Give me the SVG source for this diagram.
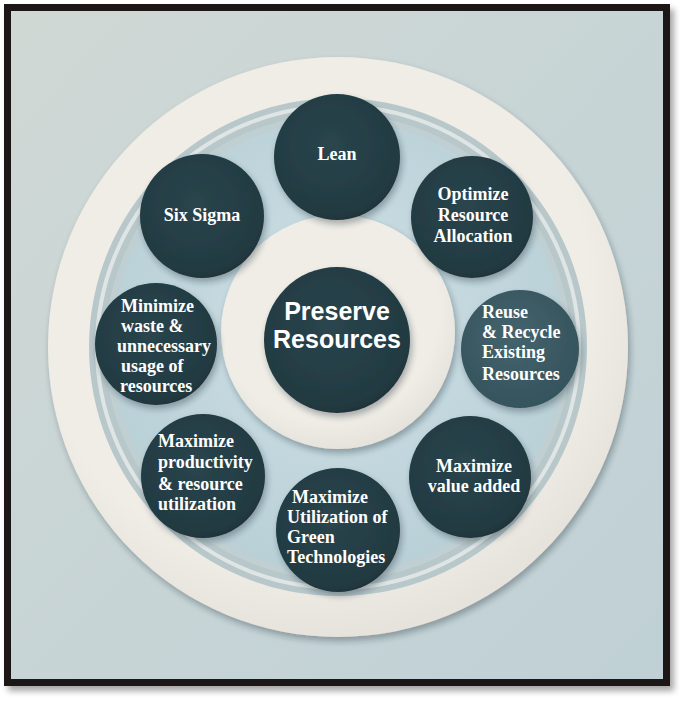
<svg xmlns="http://www.w3.org/2000/svg" width="685" height="701" viewBox="0 0 685 701">
<defs>
<linearGradient id="bg" x1="0" y1="0" x2="1" y2="1">
<stop offset="0" stop-color="#d0d8d4"/>
<stop offset="0.6" stop-color="#c6d4d6"/>
<stop offset="1" stop-color="#bfd0d6"/>
</linearGradient>
<radialGradient id="ring" cx="0.45" cy="0.4" r="0.6">
<stop offset="0.8" stop-color="#f0ede6"/>
<stop offset="1" stop-color="#e6e3dc"/>
</radialGradient>
<radialGradient id="inner" cx="0.5" cy="0.45" r="0.55">
<stop offset="0" stop-color="#cfe1e6"/>
<stop offset="1" stop-color="#b9d0d7"/>
</radialGradient>
<radialGradient id="disc" cx="0.45" cy="0.4" r="0.65">
<stop offset="0" stop-color="#2a454d"/>
<stop offset="0.85" stop-color="#223a41"/>
<stop offset="1" stop-color="#1c3037"/>
</radialGradient>
<radialGradient id="disc2" cx="0.45" cy="0.4" r="0.65">
<stop offset="0" stop-color="#44636d"/>
<stop offset="1" stop-color="#34525c"/>
</radialGradient>
<filter id="sh" x="-20%" y="-20%" width="150%" height="150%">
<feDropShadow dx="2" dy="4" stdDeviation="3" flood-color="#1c2c30" flood-opacity="0.35"/>
</filter>
<filter id="fsh" x="-5%" y="-5%" width="110%" height="110%">
<feDropShadow dx="4" dy="5" stdDeviation="3" flood-color="#000" flood-opacity="0.35"/>
</filter>
<style>
.node{fill:url(#disc);filter:url(#sh)}
.t{font-family:"Liberation Serif","Times New Roman",serif;font-weight:bold;font-size:18px;fill:#ffffff}
.m{text-anchor:middle}
.c{font-family:"Liberation Sans",Arial,sans-serif;font-weight:bold;font-size:25px;fill:#ffffff;text-anchor:middle}
</style>
</defs>
<rect x="0" y="0" width="685" height="701" fill="#ffffff"/>
<rect x="7.5" y="7.5" width="659" height="675" fill="url(#bg)" stroke="#1b1718" stroke-width="7" filter="url(#fsh)"/>
<g id="background-rings">
<circle cx="338" cy="347" r="290" fill="url(#ring)" filter="url(#sh)"/>
<circle cx="338" cy="347" r="249" fill="#b7c7ca"/>
<circle cx="338" cy="347" r="241" fill="none" stroke="#dfe5e4" stroke-width="4"/>
<circle cx="338" cy="347" r="233" fill="#bfcfd2"/>
<circle cx="338" cy="347" r="226" fill="url(#inner)"/>
</g>
<g id="connectors"></g>
<g id="center">
<circle cx="338" cy="332" r="117" fill="url(#ring)" filter="url(#sh)"/>
<circle cx="337" cy="340" r="73" fill="url(#disc)" filter="url(#sh)"/>
<text class="c" x="337" y="320">Preserve</text>
<text class="c" x="337" y="348">Resources</text>
</g>
<g id="lean">
<circle class="node" cx="337" cy="157" r="63"/>
<text class="t m" x="337" y="160">Lean</text>
</g>
<g id="six-sigma">
<circle class="node" cx="202" cy="216" r="62"/>
<text class="t m" x="202" y="221">Six Sigma</text>
</g>
<g id="optimize">
<circle class="node" cx="472" cy="217" r="61"/>
<text class="t m" x="473" y="200">Optimize</text>
<text class="t m" x="473" y="221">Resource</text>
<text class="t m" x="473" y="242">Allocation</text>
</g>
<g id="minimize-waste">
<circle class="node" cx="156" cy="344" r="61"/>
<text class="t" x="121" y="312">Minimize</text>
<text class="t" x="121" y="332">waste &amp;</text>
<text class="t" x="117" y="352">unnecessary</text>
<text class="t" x="121" y="372">usage of</text>
<text class="t" x="120" y="392">resources</text>
</g>
<g id="reuse-recycle">
<circle cx="520" cy="349" r="59" fill="url(#disc2)" filter="url(#sh)"/>
<text class="t" x="482" y="318">Reuse</text>
<text class="t" x="482" y="338">&amp; Recycle</text>
<text class="t" x="482" y="358">Existing</text>
<text class="t" x="482" y="380">Resources</text>
</g>
<g id="maximize-productivity">
<circle class="node" cx="203" cy="476" r="62"/>
<text class="t" x="158" y="447">Maximize</text>
<text class="t" x="158" y="468">productivity</text>
<text class="t" x="158" y="490">&amp; resource</text>
<text class="t" x="158" y="510">utilization</text>
</g>
<g id="maximize-value">
<circle class="node" cx="470" cy="477" r="61"/>
<text class="t m" x="474" y="472">Maximize</text>
<text class="t m" x="474" y="492">value added</text>
</g>
<g id="green-technologies">
<circle class="node" cx="338" cy="530" r="62"/>
<text class="t" x="292" y="503">Maximize</text>
<text class="t" x="287" y="523">Utilization of</text>
<text class="t" x="287" y="543">Green</text>
<text class="t" x="287" y="563">Technologies</text>
</g>
</svg>
